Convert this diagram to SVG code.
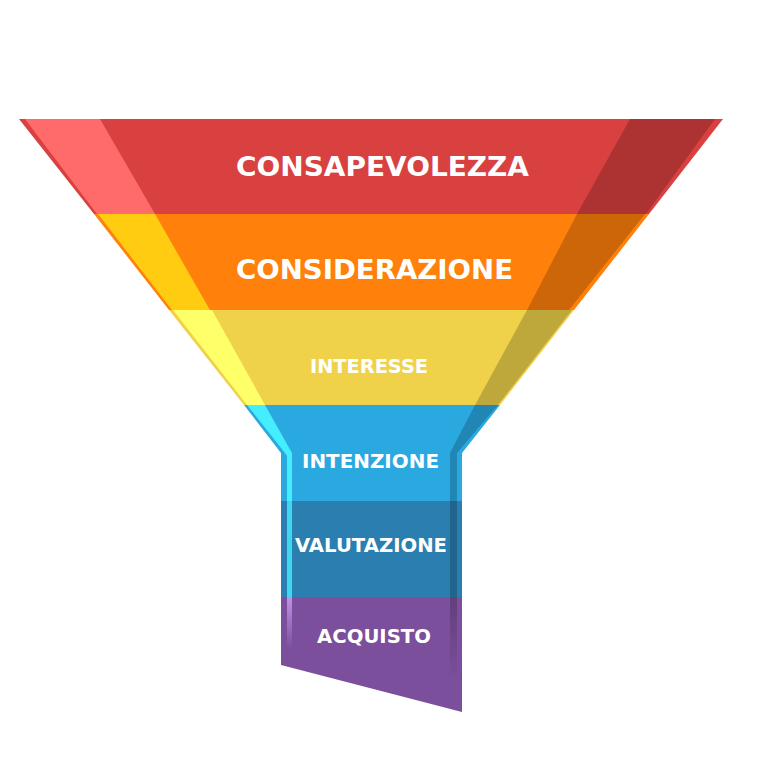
<svg xmlns="http://www.w3.org/2000/svg" width="759" height="762" viewBox="0 0 759 762">
<defs>
<style>
.lbl{font-family:"DejaVu Sans","Verdana",sans-serif;font-weight:bold;fill:#ffffff;text-anchor:middle}
.big{font-size:26px}
.small{font-size:19px}
.shade{fill:#000000;fill-opacity:0.2}
</style>
<linearGradient id="cyanFade" x1="0" y1="0" x2="0" y2="1">
<stop offset="0" stop-color="#c79af0" stop-opacity="0.9"/>
<stop offset="1" stop-color="#c79af0" stop-opacity="0"/>
</linearGradient>
<linearGradient id="darkFade" x1="0" y1="0" x2="0" y2="1">
<stop offset="0" stop-color="#000000" stop-opacity="0.2"/>
<stop offset="1" stop-color="#000000" stop-opacity="0"/>
</linearGradient>
</defs>
<rect width="759" height="762" fill="#ffffff"/>

<g id="consapevolezza">
<polygon points="19,119 723,119 649,214 94,214" fill="#d94040"/>
<polygon points="25,119 100,119 155,214 97,214" fill="#ff6b6b"/>
<polygon points="630,119 715,119 646,214 577,214" class="shade"/>
<text class="lbl big" x="382.5" y="175.5" textLength="293" lengthAdjust="spacingAndGlyphs">CONSAPEVOLEZZA</text>
</g>

<g id="considerazione">
<polygon points="94,214 649,214 574,310 169,310" fill="#ff800a"/>
<polygon points="98,214 155,214 210,310 172,310" fill="#ffcc11"/>
<polygon points="577,214 645,214 569,310 527,310" class="shade"/>
<text class="lbl big" x="374.5" y="278.5" textLength="277" lengthAdjust="spacingAndGlyphs">CONSIDERAZIONE</text>
</g>

<g id="interesse">
<polygon points="169,310 574,310 500,405 244,405" fill="#efd24a"/>
<polygon points="173,310 212,310 265,405 247,405" fill="#ffff6a"/>
<polygon points="527,310 572,310 498,405 475,405" class="shade"/>
<text class="lbl small" x="369" y="373" textLength="118" lengthAdjust="spacingAndGlyphs">INTERESSE</text>
</g>

<g id="intenzione">
<polygon points="244,405 500,405 462,453 462,501 281,501 281,453" fill="#2aa8e0"/>
<polygon points="247,405 265,405 292,453 292,501 287,501 287,456 285,453" fill="#44eeff"/>
<polygon points="475,405 498,405 457,453 457,501 450,501 450,453" class="shade"/>
<text class="lbl small" x="370.5" y="468" textLength="137" lengthAdjust="spacingAndGlyphs">INTENZIONE</text>
</g>

<g id="valutazione">
<rect x="281" y="501" width="181" height="96" fill="#2a7fb0"/>
<rect x="287" y="501" width="5" height="96" fill="#3fd6f0"/>
<rect x="450" y="501" width="7" height="96" class="shade"/>
<text class="lbl small" x="371" y="552" textLength="152" lengthAdjust="spacingAndGlyphs">VALUTAZIONE</text>
</g>

<g id="acquisto">
<polygon points="281,597 462,597 462,712 281,665" fill="#7b4f9c"/>
<rect x="287" y="597" width="5" height="52" fill="url(#cyanFade)"/>
<rect x="450" y="597" width="7" height="85" fill="url(#darkFade)"/>
<text class="lbl small" x="374" y="643" textLength="114" lengthAdjust="spacingAndGlyphs">ACQUISTO</text>
</g>

<g id="connectors"/>
</svg>
